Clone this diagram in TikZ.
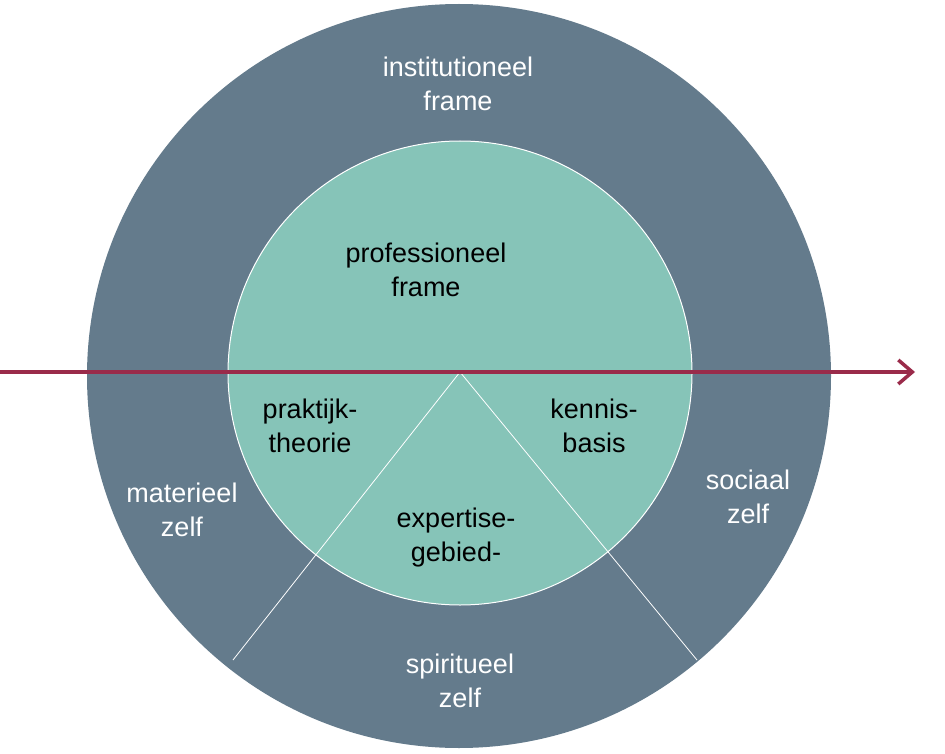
\documentclass[tikz,border=0pt]{standalone}
\usepackage{fontspec}
\setmainfont{Liberation Sans}
\usetikzlibrary{arrows.meta}
\definecolor{outerc}{HTML}{647B8C}
\definecolor{innerc}{HTML}{86C4B8}
\definecolor{arrowc}{HTML}{9A2B4A}
\begin{document}
\begin{tikzpicture}[x=1pt,y=-1pt,
  lbl/.style={align=center,font=\fontsize{27}{34}\selectfont},
  wl/.style={lbl,text=white},
  bl/.style={lbl,text=black}]
\useasboundingbox (0,0) rectangle (945,754);
\fill[white] (0,0) rectangle (945,754);
\node[circle,fill=outerc,minimum size=744,inner sep=0] (outer) at (459,376) {};
\node[circle,fill=innerc,draw=white,line width=1,minimum size=464,inner sep=0] (inner) at (460,373) {};
\coordinate (apex) at (460,372);
\coordinate (bl) at (233,660);
\coordinate (br) at (697,660);
\draw[white,line width=0.8] (bl) -- (apex) -- (br);
\coordinate (as) at (0,372);
\coordinate (ae) at (915,372);
\draw[arrowc,line width=3.5,-{Straight Barb[length=14,width=24]}] (as) -- (ae);
\node[wl] (inst) at (458,84) {institutioneel\\frame};
\node[bl] (prof) at (426,270) {professioneel\\frame};
\node[bl] (prak) at (310,426) {praktijk-\\theorie};
\node[bl] (kenn) at (594,426) {kennis-\\basis};
\node[bl] (exp) at (456,538) {expertise-\\gebied-};
\node[wl] (mat) at (182,510) {materieel\\zelf};
\node[wl] (soc) at (748,497) {sociaal\\zelf};
\node[wl] (spi) at (460,681) {spiritueel\\zelf};
\end{tikzpicture}
\end{document}
